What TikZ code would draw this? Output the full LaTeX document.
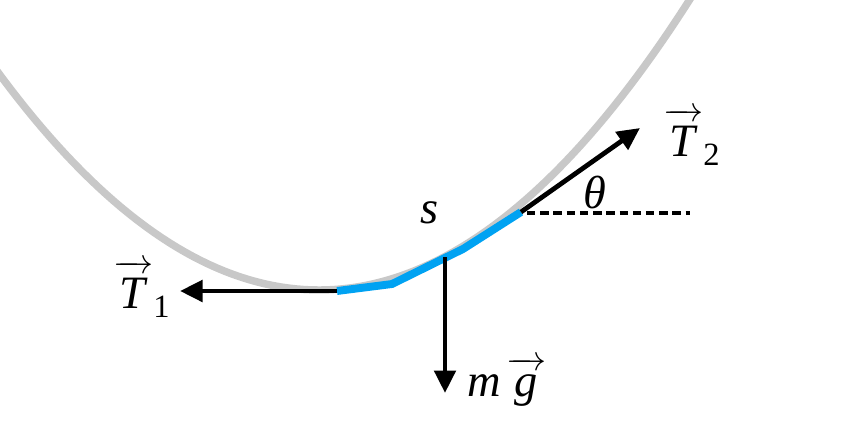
\documentclass[tikz,border=0pt]{standalone}
\usepackage{amsmath}
\usepackage{fontspec}
\setmainfont{Liberation Serif}
\usetikzlibrary{arrows.meta}
\definecolor{ropegray}{HTML}{C8C8C8}
\definecolor{segblue}{HTML}{00A2F2}
% letter with a vector arrow; #3 = height the arrow clears
\newcommand{\vecarrow}[3][c]{\overrightarrow{\makebox[0.85em][#1]{\textit{#2}\rule{0pt}{#3}}}}

\begin{document}
\begin{tikzpicture}[x=0.025cm,y=-0.025cm,
  force/.style={-{Triangle[length=16pt,width=15pt]},line width=3.4pt},
  lbl/.style={font=\fontsize{33}{39}\selectfont,inner sep=0pt}
]
\clip (0,0) rectangle (862,424);

% hanging rope
\draw[ropegray,line width=5.3pt] plot[domain=-5:700,samples=90]
  (\x,{290-21.13*((\x-319)/100)^2});

% small piece of rope
\coordinate (a) at (337,291);
\coordinate (b) at (392,284);
\coordinate (c) at (463,249);
\coordinate (d) at (521,212);
\draw[segblue,line width=5.6pt] (a) -- (b) -- (c) -- (d);

% forces
\coordinate (t1end) at (180,291);
\coordinate (t2end) at (640,128);
\coordinate (gtop)  at (445,257);
\coordinate (gend)  at (445,393);
\coordinate (hor)   at (690,213);
\draw[force] (a) -- (t1end);
\draw[force] (d) -- (t2end);
\draw[force] (gtop) -- (gend);
\draw[line width=2.4pt,dash pattern=on 6pt off 3.4pt] (d) ++(6,1) -- (hor);

% labels
\node[lbl] (t1)    at (142,289) {$\vecarrow{T}{0.76em}_{\text{1}}$};
\node[lbl] (t2)    at (692,137) {$\vecarrow{T}{0.76em}_{\text{2}}$};
\node[lbl] (mg)    at (507,382) {$\textit{m}\,\vecarrow[l]{\,g}{0.56em}$};
\node[lbl] (theta) at (595,192) {\textit{θ}};
\node[lbl] (s)     at (430,213) {\textit{s}};
\end{tikzpicture}
\end{document}
